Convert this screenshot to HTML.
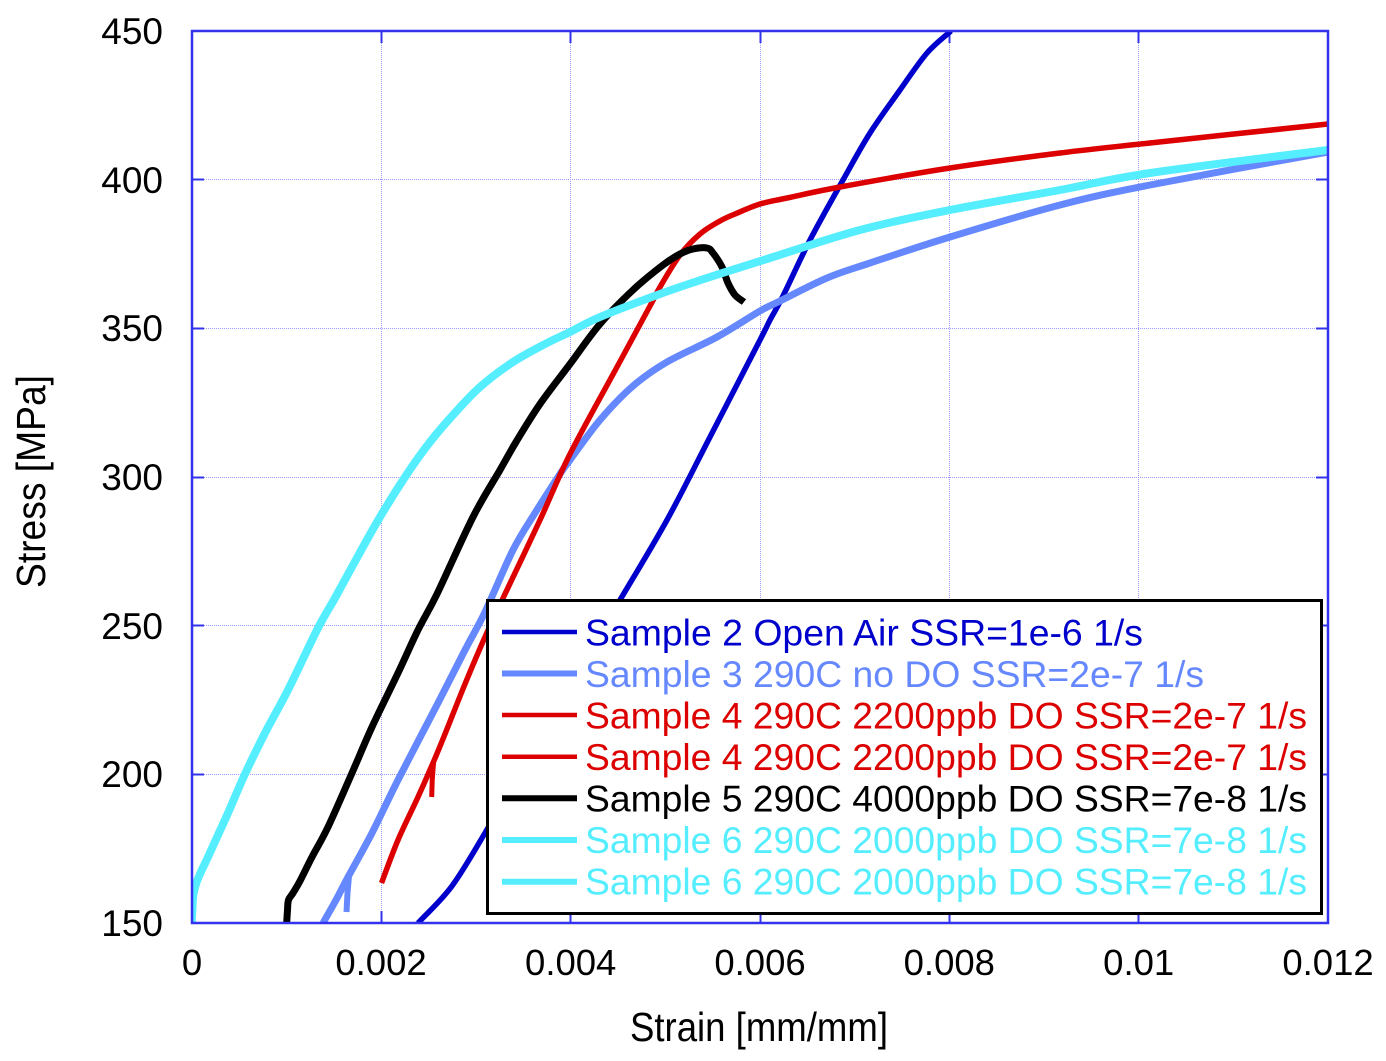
<!DOCTYPE html>
<html>
<head>
<meta charset="utf-8">
<style>
html,body{margin:0;padding:0;background:#fff;}
svg{display:block;}
text{font-family:"Liberation Sans",Arial,sans-serif;}
</style>
</head>
<body>
<svg id="chart" width="1386" height="1061" viewBox="0 0 1386 1061" xmlns="http://www.w3.org/2000/svg">
<defs>
<clipPath id="pc"><rect x="191" y="30" width="1138" height="894"/></clipPath>
</defs>
<rect x="0" y="0" width="1386" height="1061" fill="#fff"/>

<!-- grid -->
<g stroke="#9a9af8" stroke-width="1" stroke-dasharray="1 1" fill="none">
<line x1="381.5" y1="31" x2="381.5" y2="923"/>
<line x1="570.5" y1="31" x2="570.5" y2="923"/>
<line x1="760.5" y1="31" x2="760.5" y2="923"/>
<line x1="949.5" y1="31" x2="949.5" y2="923"/>
<line x1="1138.5" y1="31" x2="1138.5" y2="923"/>
<line x1="192" y1="179.5" x2="1328" y2="179.5"/>
<line x1="192" y1="328.5" x2="1328" y2="328.5"/>
<line x1="192" y1="477.5" x2="1328" y2="477.5"/>
<line x1="192" y1="625.5" x2="1328" y2="625.5"/>
<line x1="192" y1="774.5" x2="1328" y2="774.5"/>
</g>

<!-- ticks -->
<g stroke="#3333ee" stroke-width="2">
<line x1="381.5" y1="31" x2="381.5" y2="43"/><line x1="381.5" y1="923" x2="381.5" y2="911"/>
<line x1="570.5" y1="31" x2="570.5" y2="43"/><line x1="570.5" y1="923" x2="570.5" y2="911"/>
<line x1="760.5" y1="31" x2="760.5" y2="43"/><line x1="760.5" y1="923" x2="760.5" y2="911"/>
<line x1="949.5" y1="31" x2="949.5" y2="43"/><line x1="949.5" y1="923" x2="949.5" y2="911"/>
<line x1="1138.5" y1="31" x2="1138.5" y2="43"/><line x1="1138.5" y1="923" x2="1138.5" y2="911"/>
<line x1="192" y1="179.5" x2="204" y2="179.5"/><line x1="1328" y1="179.5" x2="1316" y2="179.5"/>
<line x1="192" y1="328.5" x2="204" y2="328.5"/><line x1="1328" y1="328.5" x2="1316" y2="328.5"/>
<line x1="192" y1="477.5" x2="204" y2="477.5"/><line x1="1328" y1="477.5" x2="1316" y2="477.5"/>
<line x1="192" y1="625.5" x2="204" y2="625.5"/><line x1="1328" y1="625.5" x2="1316" y2="625.5"/>
<line x1="192" y1="774.5" x2="204" y2="774.5"/><line x1="1328" y1="774.5" x2="1316" y2="774.5"/>
</g>

<!-- curves -->
<g clip-path="url(#pc)" fill="none" stroke-linejoin="round" stroke-linecap="butt">
<polyline class="sm" stroke="#0000cc" stroke-width="5.5" points="418,923 420,921 452,886 485,833 520,772 560,703 600,634 620,600 667,520 710,437 760,340 770,320 783,296 810,240 843,180 870,133 900,90 927,53 951,31"/>
<polyline class="sm" stroke="#6688ff" stroke-width="7" points="323,923 336,900 348,877 372,833 398,780 438,703 465,650 485,612 513,550 535,513 560,474 570,460 600,420 633,386 667,362 717,337 760,311 778,302 827,278 870,263 950,237 1060,205 1150,185 1328,152"/>
<polyline stroke="#6688ff" stroke-width="6" points="346.5,912 347.5,893 349,876"/>
<polyline class="sm" stroke="#dd0000" stroke-width="5.5" points="381.5,883 398,840 418,797 433,763 445,734 465,684 485,637 505,594 540,520 570,454 617,367 650,306 660,287 680,255 700,234 720,221 735,214 760,204 787,198 840,187 950,168 1060,153 1150,143 1328,124"/>
<polyline stroke="#dd0000" stroke-width="5" points="431.7,797 432.2,780 433.5,763"/>
<polyline class="sm" stroke="#000000" stroke-width="7" points="286.7,923 287.5,910 288.5,900 293,893 300,881 312,857 328,827 352,773 372,727 398,673 418,630 437,594 473,517 500,470 516,442 540,404 570,364 600,324 633,290 663,265 680,254 693,249 707,248 713,253 722,267 728,283 735,295 744,302"/>
<polyline class="sm" stroke="#55eeff" stroke-width="8" points="191.7,923 192.3,910 193.3,895 196,884 200,874 208,857 218,835 228,813 245,774 265,733 288,690 318,628 335,598 358,556 380,517 407,474 430,442 453,415 480,387 513,362 547,343 570,332 600,317 660,294 710,277 770,258 860,230 950,210 1060,190 1150,173 1328,150"/>
</g>

<!-- frame -->
<rect x="192" y="31" width="1136" height="892" fill="none" stroke="#3333ee" stroke-width="2.5"/>

<!-- y tick labels -->
<g font-size="37" fill="#000" text-anchor="end">
<text x="163" y="44">450</text>
<text x="163" y="193">400</text>
<text x="163" y="341">350</text>
<text x="163" y="490">300</text>
<text x="163" y="639">250</text>
<text x="163" y="787">200</text>
<text x="163" y="936">150</text>
</g>

<!-- x tick labels -->
<g font-size="36.5" fill="#000" text-anchor="middle">
<text x="192" y="975">0</text>
<text x="381" y="975">0.002</text>
<text x="570.7" y="975">0.004</text>
<text x="760" y="975">0.006</text>
<text x="949.3" y="975">0.008</text>
<text x="1138.7" y="975">0.01</text>
<text x="1328" y="975">0.012</text>
</g>

<!-- axis titles -->
<text x="759" y="1041" font-size="41" text-anchor="middle" textLength="258" lengthAdjust="spacingAndGlyphs">Strain [mm/mm]</text>
<text transform="translate(45,481.5) rotate(-90)" x="0" y="0" font-size="41" text-anchor="middle" textLength="213" lengthAdjust="spacingAndGlyphs">Stress [MPa]</text>

<!-- legend -->
<rect x="487.5" y="600.5" width="834" height="313" fill="#fff" stroke="#000" stroke-width="3"/>
<g stroke-linecap="butt">
<line x1="502" y1="632" x2="577" y2="632" stroke="#0000cc" stroke-width="4.5"/>
<line x1="502" y1="673.5" x2="577" y2="673.5" stroke="#6688ff" stroke-width="6"/>
<line x1="502" y1="715" x2="577" y2="715" stroke="#dd0000" stroke-width="4.5"/>
<line x1="502" y1="756.7" x2="577" y2="756.7" stroke="#dd0000" stroke-width="4.5"/>
<line x1="502" y1="798.3" x2="577" y2="798.3" stroke="#000000" stroke-width="6"/>
<line x1="502" y1="840" x2="577" y2="840" stroke="#55eeff" stroke-width="6"/>
<line x1="502" y1="881.7" x2="577" y2="881.7" stroke="#55eeff" stroke-width="6"/>
</g>
<g font-size="37.4">
<text x="585" y="645.5" fill="#0000cc" textLength="558" lengthAdjust="spacingAndGlyphs">Sample 2 Open Air SSR=1e-6 1/s</text>
<text x="585" y="687" fill="#6688ff" textLength="619" lengthAdjust="spacingAndGlyphs">Sample 3 290C no DO SSR=2e-7 1/s</text>
<text x="585" y="728.5" fill="#dd0000" textLength="722" lengthAdjust="spacingAndGlyphs">Sample 4 290C 2200ppb DO SSR=2e-7 1/s</text>
<text x="585" y="770" fill="#dd0000" textLength="722" lengthAdjust="spacingAndGlyphs">Sample 4 290C 2200ppb DO SSR=2e-7 1/s</text>
<text x="585" y="811.5" fill="#000000" textLength="722" lengthAdjust="spacingAndGlyphs">Sample 5 290C 4000ppb DO SSR=7e-8 1/s</text>
<text x="585" y="853" fill="#55eeff" textLength="722" lengthAdjust="spacingAndGlyphs">Sample 6 290C 2000ppb DO SSR=7e-8 1/s</text>
<text x="585" y="894.5" fill="#55eeff" textLength="722" lengthAdjust="spacingAndGlyphs">Sample 6 290C 2000ppb DO SSR=7e-8 1/s</text>
</g>
</svg>
<script>
(function(){
  try{
    var NS="http://www.w3.org/2000/svg";
    var pls=document.querySelectorAll("polyline.sm");
    for(var k=0;k<pls.length;k++){
      var pl=pls[k];
      var raw=pl.getAttribute("points").trim().split(/\s+/);
      var p=[];
      for(var i=0;i<raw.length;i++){var xy=raw[i].split(",");p.push([parseFloat(xy[0]),parseFloat(xy[1])]);}
      var d="M"+p[0][0]+","+p[0][1];
      for(var i=0;i<p.length-1;i++){
        var p0=p[i>0?i-1:0],p1=p[i],p2=p[i+1],p3=p[i+2<p.length?i+2:p.length-1];
        var c1x=p1[0]+(p2[0]-p0[0])/6,c1y=p1[1]+(p2[1]-p0[1])/6;
        var c2x=p2[0]-(p3[0]-p1[0])/6,c2y=p2[1]-(p3[1]-p1[1])/6;
        d+=" C"+c1x.toFixed(2)+","+c1y.toFixed(2)+" "+c2x.toFixed(2)+","+c2y.toFixed(2)+" "+p2[0]+","+p2[1];
      }
      var path=document.createElementNS(NS,"path");
      path.setAttribute("d",d);
      path.setAttribute("stroke",pl.getAttribute("stroke"));
      path.setAttribute("stroke-width",pl.getAttribute("stroke-width"));
      path.setAttribute("fill","none");
      pl.parentNode.replaceChild(path,pl);
    }
  }catch(e){}
})();
</script>
</body>
</html>
